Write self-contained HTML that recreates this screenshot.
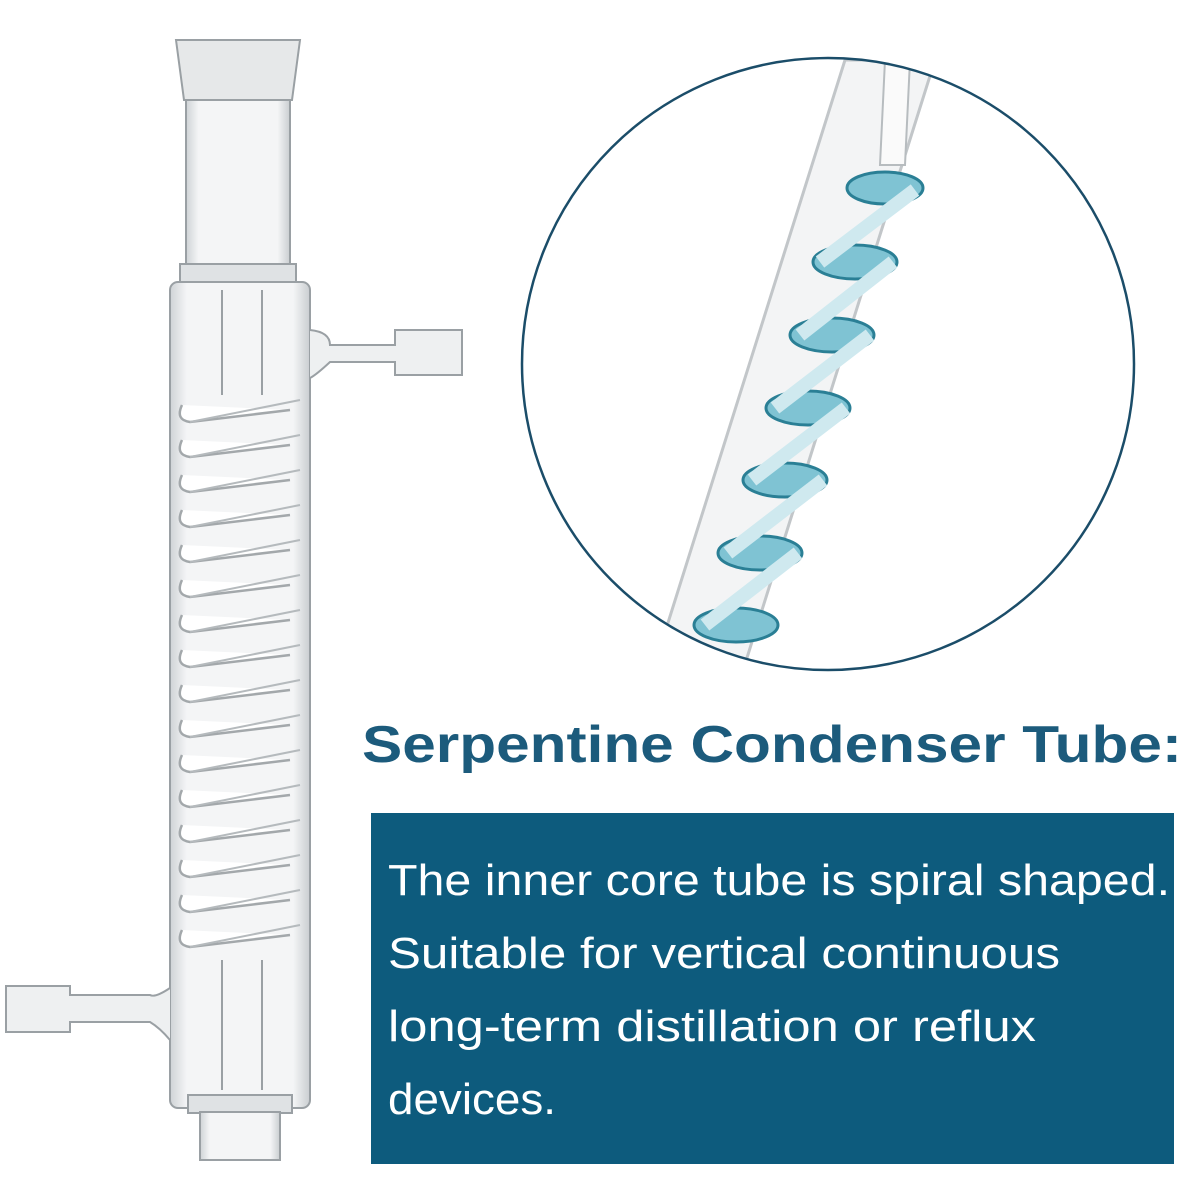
<!DOCTYPE html>
<html><head><meta charset="utf-8"><style>
html,body{margin:0;padding:0;background:#fff}
svg{display:block}
</style></head><body>
<svg width="1200" height="1200" viewBox="0 0 1200 1200" xmlns="http://www.w3.org/2000/svg">
<rect width="1200" height="1200" fill="#fff"/>
<defs>
<clipPath id="cc"><circle cx="828" cy="364" r="306"/></clipPath>
<linearGradient id="glass" x1="0" x2="1">
<stop offset="0" stop-color="#cfd3d6"/><stop offset="0.12" stop-color="#f4f5f6"/><stop offset="0.88" stop-color="#f4f5f6"/><stop offset="1" stop-color="#c9cdd0"/>
</linearGradient>
</defs>
<!-- condenser -->
<g stroke="#9aa0a4" stroke-width="2">
<path d="M176 40 L300 40 L292 100 L184 100 Z" fill="#e6e8e9"/>
<rect x="186" y="100" width="104" height="166" fill="url(#glass)"/>
<rect x="180" y="264" width="116" height="18" fill="#dfe2e4"/>
<rect x="170" y="282" width="140" height="826" rx="8" fill="url(#glass)"/>
<path d="M310 330 Q330 332 330 345 L395 345 L395 330 L462 330 L462 375 L395 375 L395 362 L330 362 Q316 375 310 378" fill="#eef0f1"/>
<path d="M170 988 Q155 998 150 995 L70 995 L70 986 L6 986 L6 1032 L70 1032 L70 1022 L150 1022 Q160 1028 170 1040" fill="#eef0f1"/>
<rect x="188" y="1095" width="104" height="18" fill="#dfe2e4"/>
<rect x="200" y="1112" width="80" height="48" fill="url(#glass)"/>
<line x1="222" y1="290" x2="222" y2="395" /><line x1="262" y1="290" x2="262" y2="395"/>
<line x1="222" y1="960" x2="222" y2="1090"/><line x1="262" y1="960" x2="262" y2="1090"/>
</g>
<g fill="#fff" stroke="#a3a8ab" stroke-width="2.5">
<path d="M182 405 Q175 420 190 422 L290 410"/>
<path d="M182 440 Q175 455 190 457 L290 445"/>
<path d="M182 475 Q175 490 190 492 L290 480"/>
<path d="M182 510 Q175 525 190 527 L290 515"/>
<path d="M182 545 Q175 560 190 562 L290 550"/>
<path d="M182 580 Q175 595 190 597 L290 585"/>
<path d="M182 615 Q175 630 190 632 L290 620"/>
<path d="M182 650 Q175 665 190 667 L290 655"/>
<path d="M182 685 Q175 700 190 702 L290 690"/>
<path d="M182 720 Q175 735 190 737 L290 725"/>
<path d="M182 755 Q175 770 190 772 L290 760"/>
<path d="M182 790 Q175 805 190 807 L290 795"/>
<path d="M182 825 Q175 840 190 842 L290 830"/>
<path d="M182 860 Q175 875 190 877 L290 865"/>
<path d="M182 895 Q175 910 190 912 L290 900"/>
<path d="M182 930 Q175 945 190 947 L290 935"/>
</g>
<g fill="none" stroke="#b5babd" stroke-width="2">
<path d="M190 422 L300 400 M190 457 L300 435 M190 492 L300 470 M190 527 L300 505 M190 562 L300 540 M190 597 L300 575 M190 632 L300 610 M190 667 L300 645 M190 702 L300 680 M190 737 L300 715 M190 772 L300 750 M190 807 L300 785 M190 842 L300 820 M190 877 L300 855 M190 912 L300 890 M190 947 L300 925"/>
</g>
<!-- inset -->
<g clip-path="url(#cc)">
<path d="M845 60 L935 60 L740 680 L650 680 Z" fill="#f3f4f5" stroke="#c2c6c9" stroke-width="3"/>
<path d="M885 60 L910 60 L905 165 L880 165 Z" fill="#fafafa" stroke="#b7bcbf" stroke-width="2"/>
<g fill="#7fc3d3" stroke="#2a7f95" stroke-width="3">
<ellipse cx="885" cy="188" rx="38" ry="16"/>
<ellipse cx="855" cy="262" rx="42" ry="17"/>
<ellipse cx="832" cy="335" rx="42" ry="17"/>
<ellipse cx="808" cy="408" rx="42" ry="17"/>
<ellipse cx="785" cy="480" rx="42" ry="17"/>
<ellipse cx="760" cy="553" rx="42" ry="17"/>
<ellipse cx="736" cy="625" rx="42" ry="17"/>
</g>
<g fill="none" stroke="#cfe9ef" stroke-width="14">
<path d="M915 190 L820 262 M893 262 L800 335 M870 335 L775 408 M846 408 L752 480 M823 480 L728 553 M798 553 L705 625"/>
</g>
</g>
<circle cx="828" cy="364" r="306" fill="none" stroke="#1b4d69" stroke-width="2.5"/>
<text x="362" y="762" textLength="820" lengthAdjust="spacingAndGlyphs" font-family="Liberation Sans, sans-serif" font-weight="bold" font-size="52" fill="#1c5b7c">Serpentine Condenser Tube:</text>
<rect x="371" y="813" width="803" height="351" fill="#0d5b7d"/>
<g font-family="Liberation Sans, sans-serif" font-size="44" fill="#fff">
<text x="388" y="895" textLength="782" lengthAdjust="spacingAndGlyphs">The inner core tube is spiral shaped.</text>
<text x="388" y="968" textLength="672" lengthAdjust="spacingAndGlyphs">Suitable for vertical continuous</text>
<text x="388" y="1041" textLength="648" lengthAdjust="spacingAndGlyphs">long-term distillation or reflux</text>
<text x="388" y="1114" textLength="168" lengthAdjust="spacingAndGlyphs">devices.</text>
</g>
</svg>
</body></html>
